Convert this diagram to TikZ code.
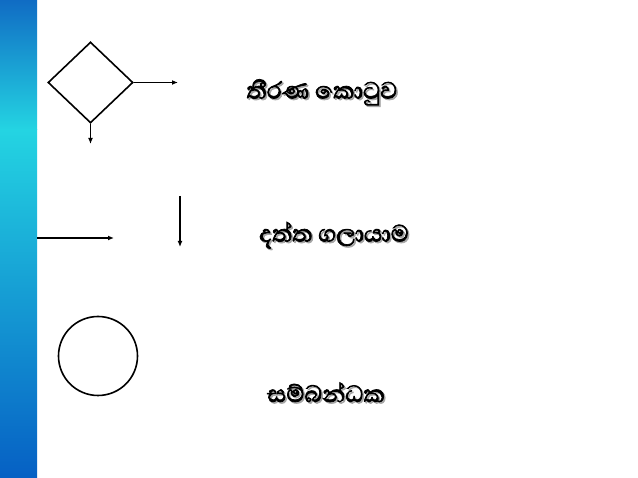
\documentclass[tikz,border=0pt]{standalone}
\usepackage{fontspec}
\newfontfamily\sinfont[Script=Sinhala,FakeBold=2.5]{Abhaya Libre}
\usetikzlibrary{shapes.geometric,arrows.meta}

\definecolor{bardark}{RGB}{16,108,196}
\definecolor{barcyan}{RGB}{36,212,226}
\definecolor{barblue}{RGB}{6,96,196}

\newcommand{\shadowtext}[1]{\rlap{\kern1.5pt\raisebox{-1.5pt}{\color{black!35}#1}}#1}

\tikzset{
  line/.style={line width=1.6pt, -{Latex[length=6pt,width=5pt]}},
  label/.style={font=\sinfont\fontsize{30}{34}\selectfont, anchor=center},
}

\begin{document}
\begin{tikzpicture}[%
x=1pt, y=-1pt,
]
\useasboundingbox (0,0) rectangle (638,478);
\fill[white] (0,0) rectangle (638,478);
%% side bar;
\shade[top color=bardark, bottom color=barcyan] (0,0) rectangle (37,130);
\shade[top color=barcyan, bottom color=barblue] (0,130) rectangle (37,478);
%% decision box;
\node[draw, line width=1.6pt, shape=diamond, inner sep=0pt,
      minimum width=85pt, minimum height=81pt] (decision) at (90.5,82.5) {};
\coordinate (decisionright) at (178,82.5);
\coordinate (decisionbottom) at (90.5,144);
\draw[line] (decision.east) -- (decisionright);
\draw[line] (decision.south) -- (decisionbottom);
%% flow lines;
\coordinate (flowstart) at (37,238);
\coordinate (flowend) at (114,238);
\draw[line] (flowstart) -- (flowend);
\coordinate (downstart) at (180,196);
\coordinate (downend) at (180,247);
\draw[line] (downstart) -- (downend);
%% connector;
\node[draw, line width=1.6pt, circle, inner sep=0pt, minimum size=79pt] (connector) at (98,356) {};
%% labels;
\node[label] (decisionlabel) at (322,93) {\shadowtext{තීරණ කොටුව}};
\node[label] (flowlabel) at (334,236) {\shadowtext{දත්ත ගලායාම}};
\node[label] (connectorlabel) at (326,393) {\shadowtext{සම්බන්ධක}};
\end{tikzpicture}
\end{document}
